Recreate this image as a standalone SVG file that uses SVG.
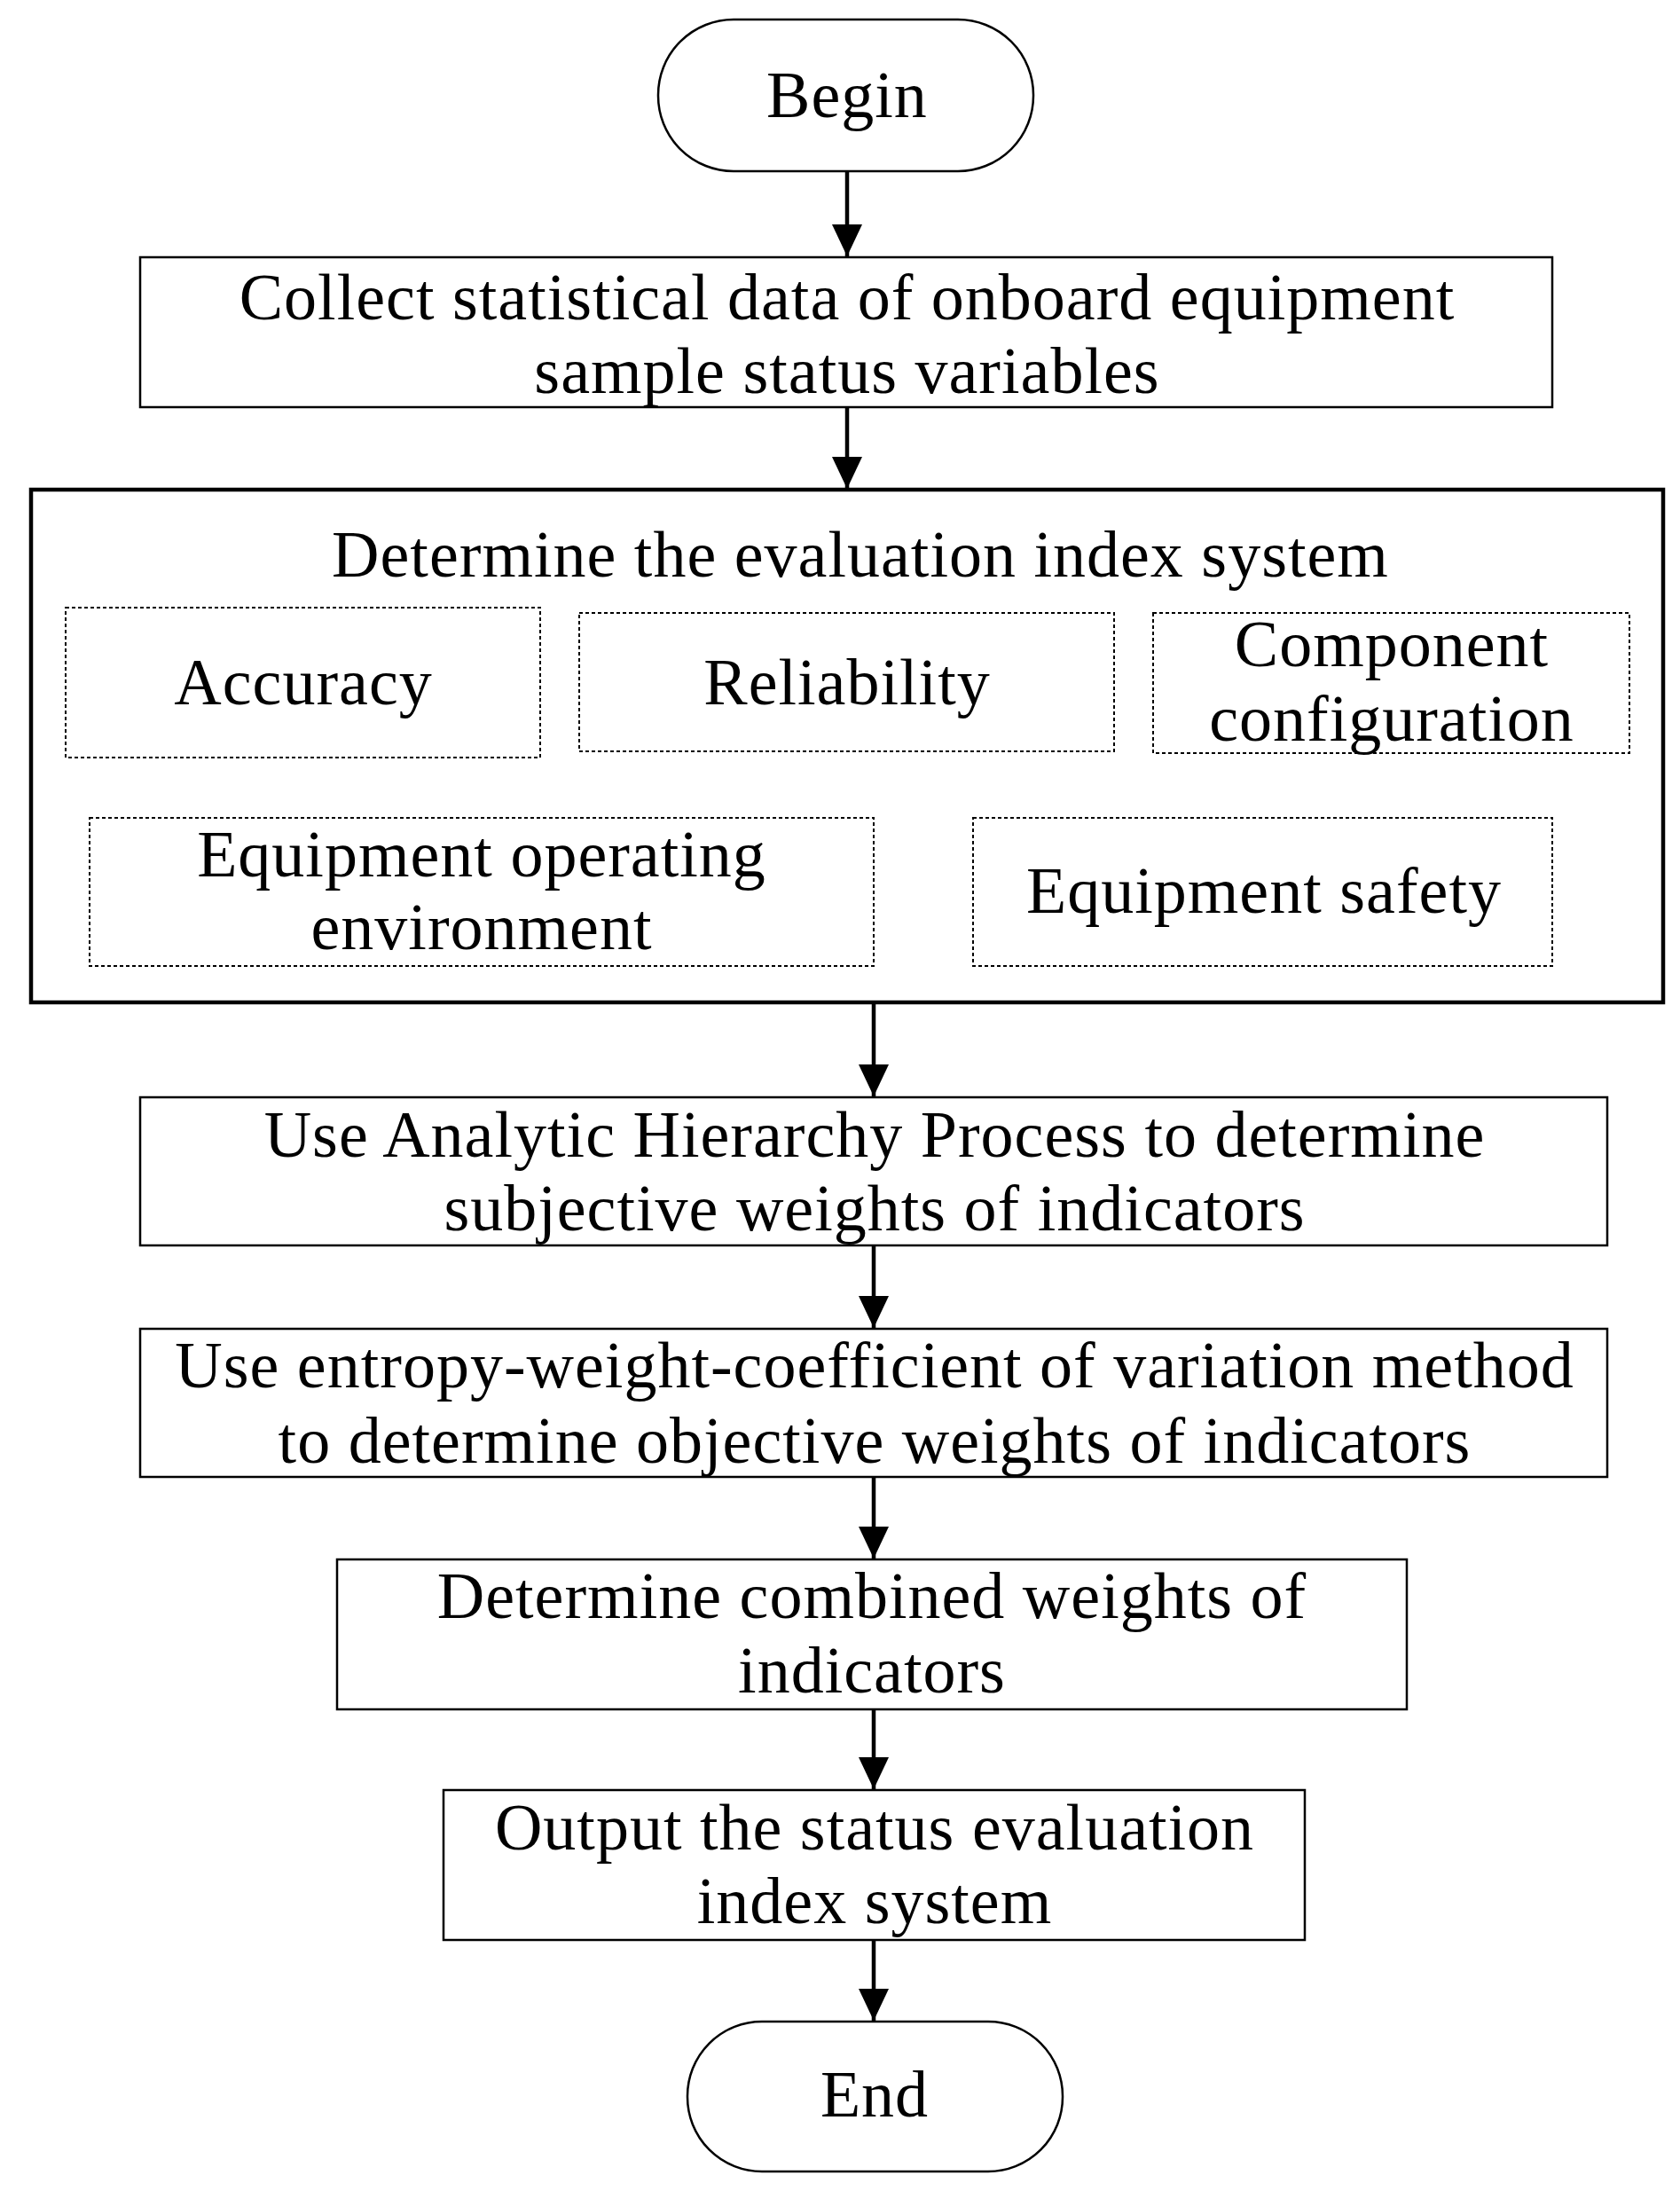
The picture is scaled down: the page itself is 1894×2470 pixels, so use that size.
<svg xmlns="http://www.w3.org/2000/svg" width="1894" height="2470" viewBox="0 0 1894 2470">
<style>
.n{fill:#fff;stroke:#000;stroke-width:2.5}
.d{fill:#fff;stroke:#000;stroke-width:2;stroke-dasharray:4 3}
.t{font-family:"Liberation Serif",serif;font-size:74px;letter-spacing:1px;text-anchor:middle;fill:#000}
.c line{stroke:#000;stroke-width:4.5}
</style>
<defs><marker id="a" markerUnits="userSpaceOnUse" markerWidth="36" markerHeight="46" refX="36" refY="17" orient="auto" viewBox="0 0 36 34"><path d="M0,0 L36,17 L0,34 Z" fill="#000"/></marker></defs>
<rect width="1894" height="2470" fill="#fff"/>
<g class="c">
<line x1="955" y1="193" x2="955" y2="289" marker-end="url(#a)"/>
<line x1="955" y1="459" x2="955" y2="551" marker-end="url(#a)"/>
<line x1="985" y1="1132" x2="985" y2="1236" marker-end="url(#a)"/>
<line x1="985" y1="1404" x2="985" y2="1497" marker-end="url(#a)"/>
<line x1="985" y1="1665" x2="985" y2="1757" marker-end="url(#a)"/>
<line x1="985" y1="1927" x2="985" y2="2017" marker-end="url(#a)"/>
<line x1="985" y1="2187" x2="985" y2="2278" marker-end="url(#a)"/>
</g>
<g id="begin"><rect class="n" x="742" y="22" width="423" height="171" rx="85"/><text class="t" x="955" y="132">Begin</text></g>
<g id="collect"><rect class="n" x="158" y="290" width="1592" height="169"/><text class="t" x="955" y="360">Collect statistical data of onboard equipment</text><text class="t" x="955" y="443">sample status variables</text></g>
<g id="index"><rect x="35" y="552" width="1840" height="578" fill="#fff" stroke="#000" stroke-width="4.5"/><text class="t" x="970" y="650">Determine the evaluation index system</text></g>
<g id="accuracy"><rect class="d" x="74" y="685" width="535" height="169"/><text class="t" x="342" y="794">Accuracy</text></g>
<g id="reliability"><rect class="d" x="653" y="691" width="603" height="156"/><text class="t" x="955" y="794">Reliability</text></g>
<g id="component"><rect class="d" x="1300" y="691" width="537" height="158"/><text class="t" x="1569" y="751">Component</text><text class="t" x="1569" y="835">configuration</text></g>
<g id="env"><rect class="d" x="101" y="922" width="884" height="167"/><text class="t" x="543" y="988">Equipment operating</text><text class="t" x="543" y="1070">environment</text></g>
<g id="safety"><rect class="d" x="1097" y="922" width="653" height="167"/><text class="t" x="1425" y="1029">Equipment safety</text></g>
<g id="ahp"><rect class="n" x="158" y="1237" width="1654" height="167"/><text class="t" x="986" y="1304">Use Analytic Hierarchy Process to determine</text><text class="t" x="986" y="1387">subjective weights of indicators</text></g>
<g id="entropy"><rect class="n" x="158" y="1498" width="1654" height="167"/><text class="t" x="986" y="1564">Use entropy-weight-coefficient of variation method</text><text class="t" x="986" y="1649">to determine objective weights of indicators</text></g>
<g id="combined"><rect class="n" x="380" y="1758" width="1206" height="169"/><text class="t" x="983" y="1824">Determine combined weights of</text><text class="t" x="983" y="1908">indicators</text></g>
<g id="output"><rect class="n" x="500" y="2018" width="971" height="169"/><text class="t" x="986" y="2085">Output the status evaluation</text><text class="t" x="986" y="2168">index system</text></g>
<g id="end"><rect class="n" x="775" y="2279" width="423" height="169" rx="84"/><text class="t" x="986" y="2386">End</text></g>
</svg>
